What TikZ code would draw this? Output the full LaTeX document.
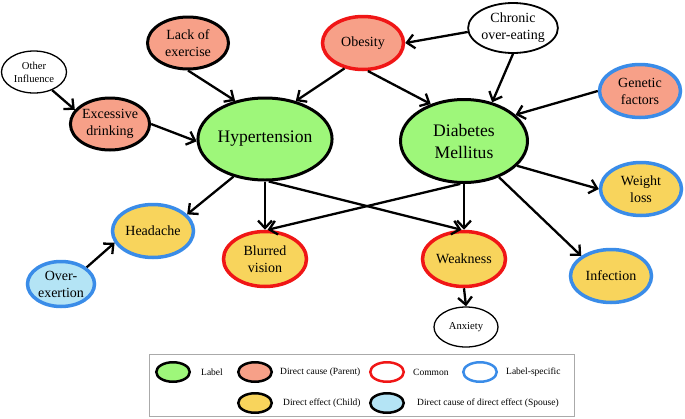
\documentclass[tikz,border=0pt]{standalone}
\usepackage{fontspec}
\setmainfont{Liberation Serif}
\usetikzlibrary{shapes.geometric,arrows.meta,positioning}

\definecolor{labelgreen}{RGB}{158,247,122}
\definecolor{parentsalmon}{RGB}{247,160,136}
\definecolor{childyellow}{RGB}{248,212,92}
\definecolor{spouseblue}{RGB}{180,228,245}
\definecolor{commonred}{RGB}{240,22,22}
\definecolor{specificblue}{RGB}{58,140,232}
\definecolor{legendgray}{RGB}{170,170,170}

\tikzset{
  ell/.style={ellipse, draw=black, line width=3pt, inner sep=0pt, align=center, text=black},
  bignode/.style={ell, fill=labelgreen, minimum width=126pt, minimum height=82pt, font=\fontsize{17.6}{22}\selectfont},
  midnode/.style={ell, minimum width=81pt, minimum height=53pt, font=\fontsize{14}{17}\selectfont},
  smallnode/.style={ell, line width=1.3pt, fill=white, font=\fontsize{10.6}{13}\selectfont},
  parent/.style={midnode, fill=parentsalmon},
  child/.style={midnode, fill=childyellow},
  spouse/.style={midnode, fill=spouseblue},
  common/.style={draw=commonred, line width=3.5pt},
  specific/.style={draw=specificblue, line width=3.5pt},
  edge/.style={line width=2.3pt, -{Straight Barb[length=7.5pt,width=14pt,line width=2.3pt]}},
  keyell/.style={ell, line width=2.5pt, minimum width=33.5pt, minimum height=19.5pt},
  keytext/.style={inner sep=0pt, text=black, font=\fontsize{9.5}{11}\selectfont}
}

\begin{document}
\begin{tikzpicture}[x=1pt,y=-1pt]
  \useasboundingbox (0,0) rectangle (685,418);
  %%%%% NODES %%%%%
  \node[smallnode, minimum width=65pt, minimum height=42pt] (other) at (34,72) {Other\\Influence};
  \node[parent, minimum height=52pt] (lack) at (188,43) {Lack of\\exercise};
  \node[parent, common] (obesity) at (363,43) {Obesity};
  \node[midnode, fill=white, line width=1.8pt, minimum height=50pt] (chronic) at (513,28) {Chronic\\over-eating};
  \node[parent, specific] (genetic) at (640,91) {Genetic\\factors};
  \node[parent, minimum width=79pt, minimum height=52pt] (drinking) at (110,124) {Excessive\\drinking};
  \node[bignode] (hyper) at (265,139) {Hypertension};
  \node[bignode, minimum width=127pt, minimum height=83pt] (diabetes) at (464,141) {Diabetes\\Mellitus};
  \node[child, specific] (weight) at (641,189) {Weight\\loss};
  \node[child, specific] (headache) at (153,231) {Headache};
  \node[child, common, minimum width=83pt, minimum height=55pt] (blurred) at (265,259) {Blurred\\vision};
  \node[spouse, specific, minimum width=67pt, minimum height=45pt] (overexert) at (61,284) {Over-\\exertion};
  \node[child, common, minimum width=83pt, minimum height=55pt] (weakness) at (464,259) {Weakness};
  \node[child, specific] (infection) at (611,276) {Infection};
  \node[smallnode, minimum width=64pt, minimum height=40pt] (anxiety) at (466,327) {Anxiety};

  %%%%% EDGES %%%%%
  \draw[edge] (other.315) -- (drinking.158);
  \draw[edge] (lack.south) -- (hyper.128);
  \draw[edge] (obesity.234) -- (hyper.51);
  \draw[edge] (obesity.280) -- (diabetes.132);
  \draw[edge] (chronic.185) -- (obesity.east);
  \draw[edge] (chronic.south) -- (diabetes.54);
  \draw[edge] (genetic.west) -- (diabetes.27);
  \draw[edge] (drinking.east) -- (hyper.182);
  \draw[edge] (hyper.230) -- (headache.26);
  \draw[edge] (hyper.south) -- (blurred.north);
  \draw[edge] (hyper.275) -- (weakness.95);
  \draw[edge] (diabetes.265) -- (blurred.85);
  \draw[edge] (diabetes.south) -- (weakness.north);
  \draw[edge] (diabetes.335) -- (weight.west);
  \draw[edge] (diabetes.314) -- (infection.146);
  \draw[edge] (overexert.33) -- (headache.197);
  \draw[edge] (weakness.south) -- (anxiety.north);

  %%%%% LEGEND %%%%%
  \draw[legendgray, line width=0.8pt] (149,354) rectangle (574,416.5);
  \node[keyell, fill=labelgreen] (keylabel) at (173,372) {};
  \node[keytext, right=10pt of keylabel] (keylabeltext) {Label};
  \node[keyell, fill=parentsalmon] (keyparent) at (255,372) {};
  \node[keytext, right=7pt of keyparent] (keyparenttext) {Direct cause (Parent)};
  \node[keyell, fill=white, draw=commonred] (keycommon) at (387,372) {};
  \node[keytext, right=8pt of keycommon] (keycommontext) {Common};
  \node[keyell, fill=white, draw=specificblue] (keyspecific) at (480,372) {};
  \node[keytext, right=8pt of keyspecific] (keyspecifictext) {Label-specific};
  \node[keyell, fill=childyellow] (keychild) at (255,403) {};
  \node[keytext, right=10pt of keychild] (keychildtext) {Direct effect (Child)};
  \node[keyell, fill=spouseblue] (keyspouse) at (387,403) {};
  \node[keytext, right=12pt of keyspouse] (keyspousetext) {Direct cause of direct effect (Spouse)};
\end{tikzpicture}
\end{document}
